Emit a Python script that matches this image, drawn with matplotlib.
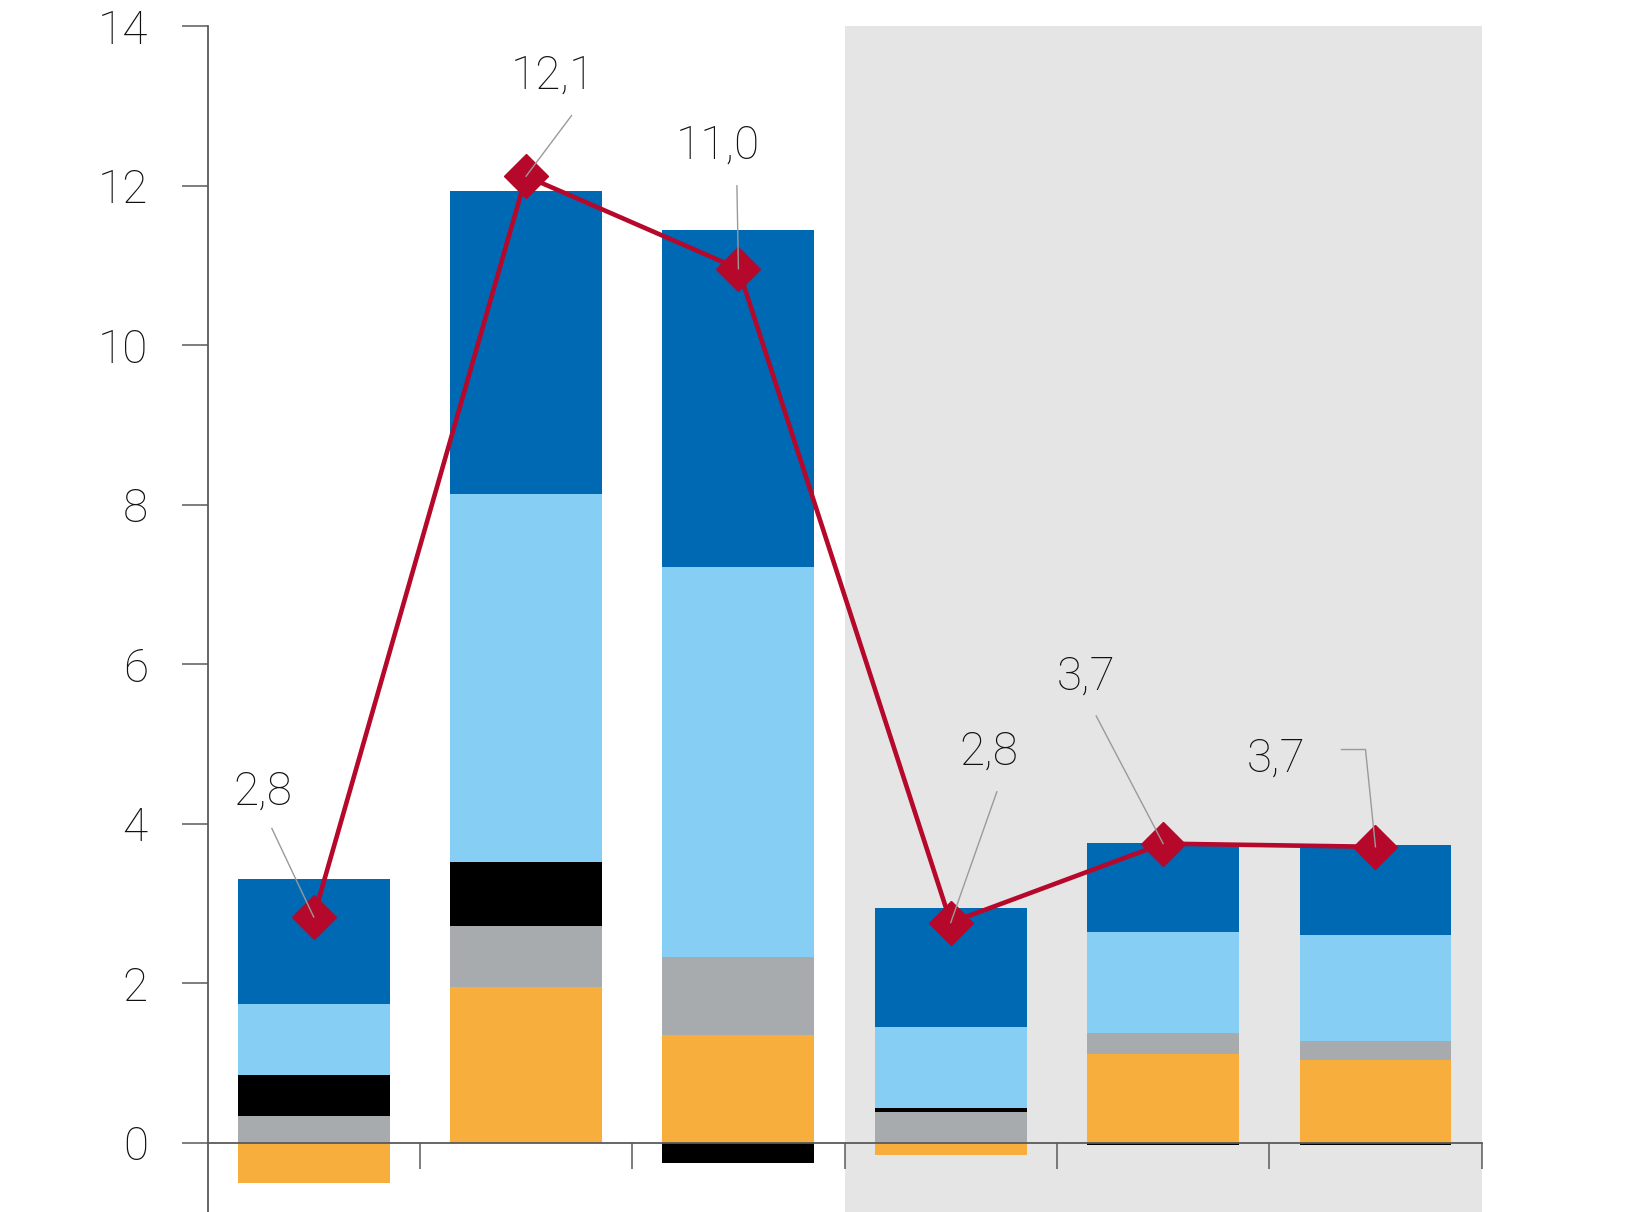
import numpy as np
import matplotlib.pyplot as plt

plt.rcParams['font.family'] = ['Roboto', 'DejaVu Sans']

# stacked components, bottom to top
orange = [-0.51, 1.95, 1.35, -0.15, 1.11, 1.03]
grey = [0.34, 0.77, 0.98, 0.39, 0.26, 0.25]
black = [0.51, 0.80, -0.26, 0.05, -0.03, -0.03]
light_blue = [0.89, 4.62, 4.89, 1.01, 1.27, 1.32]
dark_blue = [1.57, 3.80, 4.22, 1.49, 1.12, 1.13]
total = [2.83, 12.12, 10.96, 2.76, 3.75, 3.71]
total_labels = ["2,8", "12,1", "11,0", "2,8", "3,7", "3,7"]

# label text positions and leader-line starts (data coords)
label_xy = [(-0.24, 4.40), (1.125, 13.38), (1.904, 12.51), (3.177, 4.90), (3.636, 5.85), (4.534, 4.82)]
leader_xy = [(-0.197, 3.94), (1.214, 12.88), (1.993, 12.0), (3.217, 4.40), (3.685, 5.35), (4.84, 4.93)]

series = [orange, grey, black, light_blue, dark_blue]
colors = ["#F8AE3C", "#A8ABAE", "#000000", "#86CEF3", "#0069B4"]

fig = plt.figure(figsize=(16.43, 12.12), dpi=100)
ax = fig.add_axes([0.1263, 0.0, 0.7755, 0.9783])

x = np.arange(len(total))
pos_bottom = np.zeros(len(x))
neg_bottom = np.zeros(len(x))
for vals, c in zip(series, colors):
    vals = np.array(vals)
    bottoms = np.where(vals >= 0, pos_bottom, neg_bottom)
    ax.bar(x, vals, bottom=bottoms, width=0.715, color=c, zorder=2)
    pos_bottom += np.where(vals >= 0, vals, 0)
    neg_bottom += np.where(vals < 0, vals, 0)

ax.axvspan(2.5, 5.5, color="#E5E5E5", zorder=0, lw=0)

ax.plot(x, total, color="#B5082B", lw=3.3, marker="D", markersize=22, zorder=5)

for i, (lab, (tx, ty), (lx, ly)) in enumerate(zip(total_labels, label_xy, leader_xy)):
    ax.text(tx, ty, lab, ha="center", va="center", fontsize=33, fontweight="light", color="#111111")
    if i == 5:
        ax.plot([lx, lx + 0.113, x[i]], [ly, ly, total[i]], color="#9a9a9a", lw=1, zorder=6)
    else:
        ax.plot([lx, x[i]], [ly, total[i]], color="#9a9a9a", lw=1, zorder=6)

ax.set_xlim(-0.5, 5.5)
ax.set_ylim(-0.87, 14)
ax.set_yticks(range(0, 15, 2))
ax.set_xticks(np.arange(0.5, 6, 1))
ax.set_xticklabels([])
for s in ["top", "right"]:
    ax.spines[s].set_visible(False)
ax.spines["bottom"].set_position(("data", 0))
for s in ["left", "bottom"]:
    ax.spines[s].set_color("#5a5a5a")
    ax.spines[s].set_linewidth(1.3)
    ax.spines[s].set_zorder(4)
ax.tick_params(axis="y", length=19, width=1.1, color="#5a5a5a", pad=24, labelsize=33, labelcolor="#111111")
ax.tick_params(axis="x", length=19, width=1.1, color="#5a5a5a")
for t in ax.get_yticklabels():
    t.set_fontweight("light")
ax.set_facecolor("none")

fig.savefig("out.png", dpi=100)
